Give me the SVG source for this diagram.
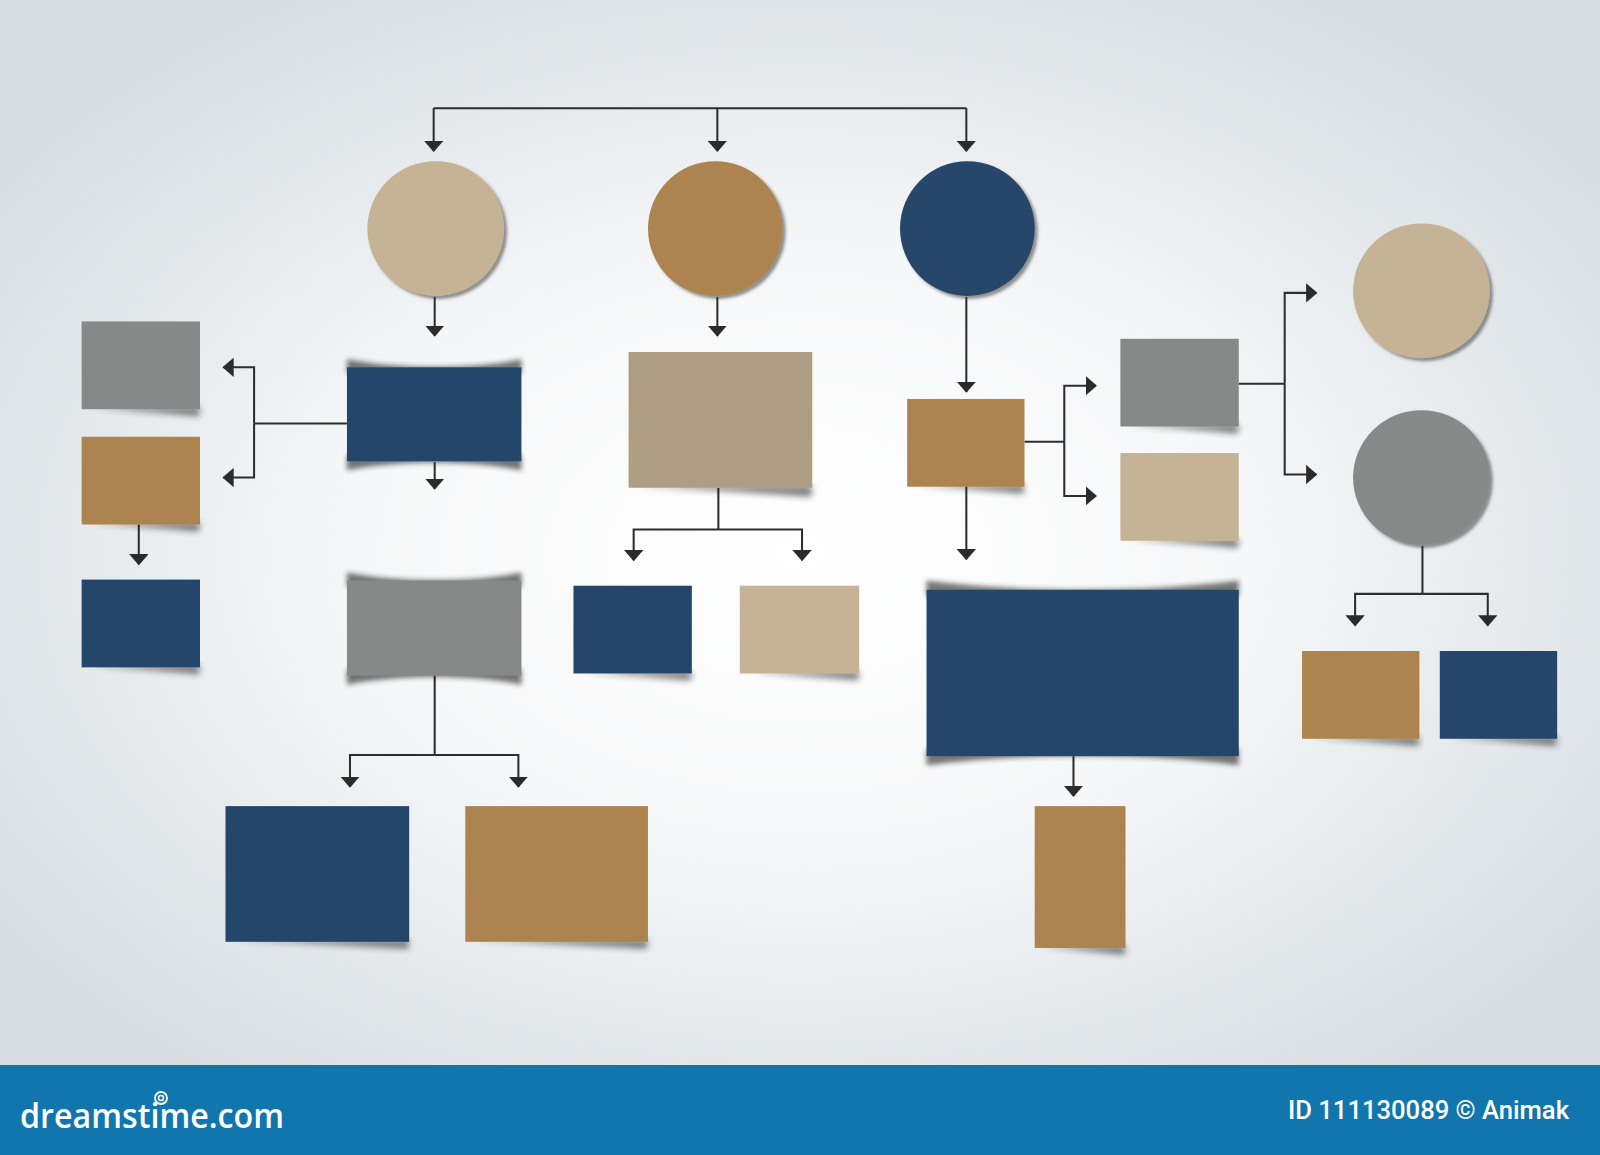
<svg xmlns="http://www.w3.org/2000/svg" width="1600" height="1155" viewBox="0 0 1600 1155">
<defs>
  <radialGradient id="bg" cx="50%" cy="52%" r="62%">
    <stop offset="0" stop-color="#ffffff"/>
    <stop offset="0.45" stop-color="#f6f7f8"/>
    <stop offset="1" stop-color="#d6dde2"/>
  </radialGradient>
  <filter id="sb" x="-0.3" y="-2" width="1.6" height="5">
    <feGaussianBlur stdDeviation="3"/>
  </filter>
  <filter id="cb" x="-0.2" y="-1" width="1.4" height="3">
    <feGaussianBlur stdDeviation="2.8"/>
  </filter>
  <filter id="cs" x="-0.2" y="-0.2" width="1.4" height="1.4">
    <feDropShadow dx="3" dy="3" stdDeviation="1.8" flood-color="#3a3a3a" flood-opacity="0.55"/>
  </filter>
  <marker id="ah" viewBox="0 0 11 19" markerUnits="userSpaceOnUse" markerWidth="11" markerHeight="19" refX="10" refY="9.5" orient="auto">
    <path d="M0,0 L11,9.5 L0,19 Z" fill="#2b2b2b"/>
  </marker>
</defs>
<style>
  .conn { fill: none; stroke: #2d2d2d; stroke-width: 2; }
  .arr { marker-end: url(#ah); }
  .sh { fill: #1e1e1e; opacity: 0.55; filter: url(#sb); }
  .shc { fill: #1e1e1e; opacity: 0.6; filter: url(#cb); }
  .circ { filter: url(#cs); }
  .navy { fill: #25466b; }
  .brown { fill: #ad844f; }
  .tan { fill: #c6b294; }
  .taupe { fill: #ae9c83; }
  .gray { fill: #878989; }
  .brand { font-family: "Open Sans", "Liberation Sans", sans-serif; font-weight: 600; fill: #ffffff; }
  .credit { font-family: Roboto, "Liberation Sans", sans-serif; font-weight: 500; fill: #ffffff; }
</style>

<rect x="0" y="0" width="1600" height="1066" fill="url(#bg)"/>

<g transform="scale(1.020408)">
  <g id="connectors">
    <path class="conn" d="M425,106 H947"/>
    <path class="conn arr" d="M425,106 V148"/>
    <path class="conn arr" d="M703,106 V148"/>
    <path class="conn arr" d="M947,106 V148"/>
    <path class="conn arr" d="M426,291 V329"/>
    <path class="conn arr" d="M703,291 V329"/>
    <path class="conn arr" d="M947,291 V384"/>
    <path class="conn" d="M340,415 H249"/>
    <path class="conn arr" d="M249,415 V360 H219"/>
    <path class="conn arr" d="M249,415 V468 H219"/>
    <path class="conn arr" d="M426,453 V479"/>
    <path class="conn arr" d="M136,514 V553"/>
    <path class="conn" d="M426,662 V740"/>
    <path class="conn arr" d="M426,740 H343 V771"/>
    <path class="conn arr" d="M426,740 H508 V771"/>
    <path class="conn" d="M704,478 V519"/>
    <path class="conn arr" d="M704,519 H621 V549"/>
    <path class="conn arr" d="M704,519 H786 V549"/>
    <path class="conn arr" d="M947,477 V548"/>
    <path class="conn" d="M1004,433 H1043"/>
    <path class="conn arr" d="M1043,433 V378 H1074"/>
    <path class="conn arr" d="M1043,433 V486 H1074"/>
    <path class="conn" d="M1214,376 H1259"/>
    <path class="conn arr" d="M1259,376 V287 H1290"/>
    <path class="conn arr" d="M1259,376 V465 H1290"/>
    <path class="conn" d="M1394,535 V582"/>
    <path class="conn arr" d="M1394,582 H1328 V613"/>
    <path class="conn arr" d="M1394,582 H1458 V613"/>
    <path class="conn arr" d="M1052,741 V780"/>
  </g>

  <g id="circle-tan-top"><ellipse class="circ tan" cx="427" cy="224" rx="67" ry="66"/></g>
  <g id="circle-brown-top"><ellipse class="circ brown" cx="701" cy="224" rx="66" ry="66"/></g>
  <g id="circle-navy-top"><ellipse class="circ navy" cx="948" cy="224" rx="66" ry="66"/></g>
  <g id="circle-tan-right"><ellipse class="circ tan" cx="1393" cy="285" rx="67" ry="66"/></g>
  <g id="circle-gray-right"><ellipse class="circ gray" cx="1393" cy="468" rx="67" ry="66"/></g>

  <g id="box-left-gray">
    <path class="sh" d="M88,399 L196,399 L195,408 Q150,404 88,399 Z"/>
    <rect class="gray" x="80" y="315" width="116" height="86"/>
  </g>
  <g id="box-left-brown">
    <path class="sh" d="M88,512 L196,512 L195,521 Q150,517 88,512 Z"/>
    <rect class="brown" x="80" y="428" width="116" height="86"/>
  </g>
  <g id="box-left-navy">
    <path class="sh" d="M88,652 L196,652 L195,661 Q150,657 88,652 Z"/>
    <rect class="navy" x="80" y="568" width="116" height="86"/>
  </g>

  <g id="box-a-navy">
    <path class="shc" d="M340,352 C392,362 459,362 511,352 L511,366 L340,366 Z"/>
    <path class="shc" d="M340,461 C392,451 459,451 511,461 L511,446 L340,446 Z"/>
    <rect class="navy" x="340" y="360" width="171" height="92"/>
  </g>
  <g id="box-b-gray">
    <path class="shc" d="M340,561 C392,571 459,571 511,561 L511,575 L340,575 Z"/>
    <path class="shc" d="M340,671 C392,661 459,661 511,671 L511,656 L340,656 Z"/>
    <rect class="gray" x="340" y="569" width="171" height="93"/>
  </g>
  <g id="box-c-navy">
    <path class="sh" d="M229,921 L401,921 L400,930 Q329,926 229,921 Z"/>
    <rect class="navy" x="221" y="790" width="180" height="133"/>
  </g>
  <g id="box-d-brown">
    <path class="sh" d="M464,921 L635,921 L634,930 Q563,926 464,921 Z"/>
    <rect class="brown" x="456" y="790" width="179" height="133"/>
  </g>

  <g id="box-e-taupe">
    <path class="sh" d="M624,476 L796,476 L795,487 Q724,482 624,476 Z"/>
    <rect class="taupe" x="616" y="345" width="180" height="133"/>
  </g>
  <g id="box-f-navy">
    <path class="sh" d="M570,658 L678,658 L677,667 Q632,663 570,658 Z"/>
    <rect class="navy" x="562" y="574" width="116" height="86"/>
  </g>
  <g id="box-g-tan">
    <path class="sh" d="M733,658 L842,658 L841,667 Q795,663 733,658 Z"/>
    <rect class="tan" x="725" y="574" width="117" height="86"/>
  </g>

  <g id="box-h-brown">
    <path class="sh" d="M897,475 L1004,475 L1003,484 Q958,480 897,475 Z"/>
    <rect class="brown" x="889" y="391" width="115" height="86"/>
  </g>
  <g id="box-i-gray">
    <path class="sh" d="M1106,416 L1214,416 L1213,425 Q1168,421 1106,416 Z"/>
    <rect class="gray" x="1098" y="332" width="116" height="86"/>
  </g>
  <g id="box-j-tan">
    <path class="sh" d="M1106,528 L1214,528 L1213,537 Q1168,533 1106,528 Z"/>
    <rect class="tan" x="1098" y="444" width="116" height="86"/>
  </g>
  <g id="box-k-navy">
    <path class="shc" d="M908,569 C1000,581 1122,581 1214,569 L1214,585 L908,585 Z"/>
    <path class="shc" d="M908,750 C1000,738 1122,738 1214,750 L1214,734 L908,734 Z"/>
    <rect class="navy" x="908" y="578" width="306" height="163"/>
  </g>
  <g id="box-l-brown">
    <path class="sh" d="M1022,927 L1103,927 L1102,936 Q1067,932 1022,927 Z"/>
    <rect class="brown" x="1014" y="790" width="89" height="139"/>
  </g>
  <g id="box-m-brown">
    <path class="sh" d="M1284,722 L1391,722 L1390,731 Q1345,727 1284,722 Z"/>
    <rect class="brown" x="1276" y="638" width="115" height="86"/>
  </g>
  <g id="box-n-navy">
    <path class="sh" d="M1419,722 L1526,722 L1525,731 Q1480,727 1419,722 Z"/>
    <rect class="navy" x="1411" y="638" width="115" height="86"/>
  </g>
</g>

<g id="footer">
  <rect x="0" y="1065" width="1600" height="90" fill="#1176ae"/>
  <text class="brand" x="20" y="1128" font-size="34" textLength="264" lengthAdjust="spacingAndGlyphs">dreamstime.com</text>
  <circle cx="161" cy="1098" r="6" fill="none" stroke="#ffffff" stroke-width="1.8"/>
  <circle cx="161" cy="1098" r="2.5" fill="none" stroke="#ffffff" stroke-width="1.5"/>
  <text class="credit" x="1288" y="1119" font-size="26" textLength="281" lengthAdjust="spacingAndGlyphs">ID 111130089 © Animak</text>
</g>
</svg>
